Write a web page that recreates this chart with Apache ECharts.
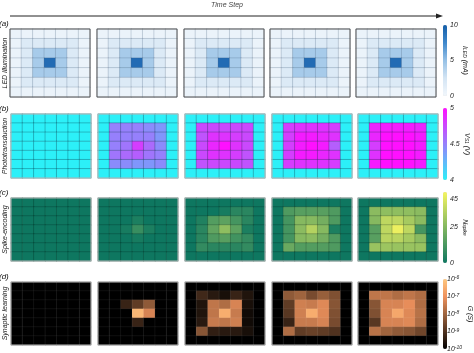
<!DOCTYPE html>
<html>
<head>
<meta charset="utf-8">
<script src="https://cdn.jsdelivr.net/npm/echarts@6/dist/echarts.min.js"></script>
<style>
  html, body { margin: 0; padding: 0; background: #fff; }
  #main { width: 474px; height: 353px; }
</style>
</head>
<body>
<div id="main"></div>
<script>
// 7x7 pixel arrays, row 0 = top of the panel

// (a) LED current, mA - same pattern at every time step
const ledFrame = [
  [0.6, 0.6, 0.6, 0.6, 0.6, 0.6, 0.6],
  [0.6, 1.8, 1.8, 1.8, 1.8, 1.8, 0.6],
  [0.6, 1.8, 4.3, 4.3, 4.3, 1.8, 0.6],
  [0.6, 1.8, 4.3, 9.2, 4.3, 1.8, 0.6],
  [0.6, 1.8, 4.3, 4.3, 4.3, 1.8, 0.6],
  [0.6, 1.8, 1.8, 1.8, 1.8, 1.8, 0.6],
  [0.6, 0.6, 0.6, 0.6, 0.6, 0.6, 0.6]
];

// (b) phototransduction voltage, V
const photoT1 = [
  [4, 4, 4, 4, 4, 4, 4],
  [4, 4, 4, 4, 4, 4, 4],
  [4, 4, 4, 4, 4, 4, 4],
  [4, 4, 4, 4, 4, 4, 4],
  [4, 4, 4, 4, 4, 4, 4],
  [4, 4, 4, 4, 4, 4, 4],
  [4, 4, 4, 4, 4, 4, 4]
];
const photoT2 = [
  [4, 4, 4, 4, 4, 4, 4],
  [4, 4.5, 4.5, 4.5, 4.45, 4.4, 4],
  [4, 4.5, 4.5, 4.5, 4.5, 4.4, 4],
  [4, 4.5, 4.55, 4.8, 4.6, 4.45, 4],
  [4, 4.55, 4.6, 4.65, 4.55, 4.5, 4],
  [4, 4.45, 4.45, 4.4, 4.4, 4.45, 4],
  [4, 4, 4, 4, 4, 4, 4]
];
const photoT3 = [
  [4, 4, 4, 4, 4, 4, 4],
  [4, 4.75, 4.75, 4.75, 4.75, 4.75, 4],
  [4, 4.7, 4.85, 4.85, 4.8, 4.75, 4],
  [4, 4.75, 4.9, 5.0, 4.85, 4.75, 4],
  [4, 4.75, 4.85, 4.85, 4.8, 4.7, 4],
  [4, 4.7, 4.75, 4.75, 4.75, 4.7, 4],
  [4, 4, 4, 4, 4, 4, 4]
];
const photoT4 = [
  [4, 4, 4, 4, 4, 4, 4],
  [4, 4.8, 4.85, 4.85, 4.85, 4.8, 4],
  [4, 4.8, 4.95, 4.95, 4.9, 4.85, 4],
  [4, 4.8, 4.95, 5.0, 4.95, 4.65, 4],
  [4, 4.8, 4.95, 4.95, 4.9, 4.85, 4],
  [4, 4.8, 4.85, 4.85, 4.85, 4.8, 4],
  [4, 4, 4, 4, 4, 4, 4]
];
const photoT5 = [
  [4, 4, 4, 4, 4, 4, 4],
  [4, 4.9, 4.95, 4.95, 4.95, 4.9, 4],
  [4, 4.9, 5.0, 5.0, 5.0, 4.95, 4],
  [4, 4.8, 5.0, 5.0, 5.0, 4.95, 4],
  [4, 4.85, 5.0, 5.0, 5.0, 4.95, 4],
  [4, 4.95, 5.0, 5.0, 5.0, 4.95, 4],
  [4, 4, 4, 4, 4, 4, 4]
];

// (c) spike counts
const spikeT1 = [
  [0, 0, 0, 0, 0, 0, 0],
  [0, 0, 0, 0, 0, 0, 0],
  [0, 0, 0, 0, 0, 0, 0],
  [0, 0, 0, 0, 0, 0, 0],
  [0, 0, 0, 0, 0, 0, 0],
  [0, 0, 0, 0, 0, 0, 0],
  [0, 0, 0, 0, 0, 0, 0]
];
const spikeT2 = [
  [0, 0, 0, 0, 0, 0, 0],
  [0, 0, 0, 0, 0, 0, 0],
  [0, 0, 0, 3, 0, 0, 0],
  [0, 0, 2, 9, 3, 0, 0],
  [0, 0, 0, 2, 0, 0, 0],
  [0, 0, 0, 0, 0, 0, 0],
  [0, 0, 0, 0, 0, 0, 0]
];
const spikeT3 = [
  [0, 0, 0, 0, 0, 0, 0],
  [0, 0, 0, 2, 6, 6, 0],
  [0, 4, 15, 17, 12, 6, 0],
  [0, 6, 18, 28, 17, 3, 0],
  [0, 6, 14, 16, 11, 8, 0],
  [0, 8, 6, 6, 6, 8, 0],
  [0, 0, 0, 0, 0, 0, 0]
];
const spikeT4 = [
  [0, 0, 0, 0, 0, 0, 0],
  [0, 14, 16, 16, 16, 14, 0],
  [0, 12, 26, 26, 22, 14, 0],
  [0, 12, 27, 36, 26, 3, 0],
  [0, 12, 26, 27, 22, 14, 0],
  [0, 20, 15, 15, 15, 14, 0],
  [0, 0, 0, 0, 0, 0, 0]
];
const spikeT5 = [
  [0, 0, 0, 0, 0, 0, 0],
  [0, 27, 28, 28, 28, 27, 0],
  [0, 26, 38, 38, 33, 27, 0],
  [0, 16, 38, 48, 38, 12, 0],
  [0, 16, 37, 37, 33, 27, 0],
  [0, 30, 31, 30, 30, 30, 0],
  [0, 0, 0, 0, 0, 0, 0]
];

// (d) synaptic conductance, log10(G / S)
const synT1 = [
  [-10, -10, -10, -10, -10, -10, -10],
  [-10, -10, -10, -10, -10, -10, -10],
  [-10, -10, -10, -10, -10, -10, -10],
  [-10, -10, -10, -10, -10, -10, -10],
  [-10, -10, -10, -10, -10, -10, -10],
  [-10, -10, -10, -10, -10, -10, -10],
  [-10, -10, -10, -10, -10, -10, -10]
];
const synT2 = [
  [-10, -10, -10, -10, -10, -10, -10],
  [-10, -10, -10, -10, -10, -10, -10],
  [-10, -10, -9.3, -8.8, -8.2, -10, -10],
  [-10, -10, -10, -6.3, -7.3, -10, -10],
  [-10, -10, -10, -9.3, -10, -10, -10],
  [-10, -10, -10, -10, -10, -10, -10],
  [-10, -10, -10, -10, -10, -10, -10]
];
const synT3 = [
  [-10, -10, -10, -10, -10, -10, -10],
  [-10, -9.2, -9.5, -9.7, -9.3, -9.6, -10],
  [-10, -9.6, -7.6, -7.8, -7.3, -9.7, -10],
  [-10, -9.6, -7.6, -6.5, -7.5, -9.8, -10],
  [-10, -9.5, -7.5, -7.6, -7.4, -9.8, -10],
  [-10, -8.3, -9.4, -9.5, -9.5, -9.7, -10],
  [-10, -10, -10, -10, -10, -10, -10]
];
const synT4 = [
  [-10, -10, -10, -10, -10, -10, -10],
  [-10, -8.2, -8.0, -8.5, -8.1, -8.4, -10],
  [-10, -8.8, -7.4, -7.5, -7.2, -8.3, -10],
  [-10, -8.9, -7.4, -6.5, -7.2, -8.4, -10],
  [-10, -9.3, -7.5, -7.5, -7.3, -8.5, -10],
  [-10, -7.8, -8.8, -8.7, -8.8, -9.0, -10],
  [-10, -10, -10, -10, -10, -10, -10]
];
const synT5 = [
  [-10, -10, -10, -10, -10, -10, -10],
  [-10, -7.6, -7.6, -7.8, -7.6, -7.8, -10],
  [-10, -8.3, -7.3, -7.3, -7.1, -7.8, -10],
  [-10, -8.4, -7.3, -6.6, -7.2, -7.7, -10],
  [-10, -8.9, -7.3, -7.3, -7.2, -7.8, -10],
  [-10, -7.7, -8.0, -8.2, -8.3, -8.6, -10],
  [-10, -10, -10, -10, -10, -10, -10]
];

const rowTitles = ['LED Illumination', 'Phototransduction', 'Spike-encoding', 'Synaptic learning'];
const rowLetters = ['(a)', '(b)', '(c)', '(d)'];
const cbRanges = [[0, 10, 5], [4, 5, 0.5], [0, 50, 5], [-10, -6, 1]];
const cbNames = ['I{sub|LED} (mA)', 'V{sub|S1} (V)', 'N{sub|spike}', 'G (S)'];

const rows = [
  { frames: [ledFrame, ledFrame, ledFrame, ledFrame, ledFrame],
    lefts: [10, 97, 184, 270, 356], top: 29, height: 68,
    border: '#555', line: 'rgba(60,80,110,0.35)',
    colors: ['#f2f7fc', '#d4e5f4', '#96c1e6', '#3f88cc', '#145ea8'] },
  { frames: [photoT1, photoT2, photoT3, photoT4, photoT5],
    lefts: [11, 98, 185, 272, 358], top: 114, height: 64,
    border: '#bbb', line: 'rgba(0,40,60,0.45)',
    colors: ['#2cf0f8', '#ff10ff'] },
  { frames: [spikeT1, spikeT2, spikeT3, spikeT4, spikeT5],
    lefts: [11, 98, 185, 272, 358], top: 198, height: 63,
    border: '#bbb', line: 'rgba(0,30,20,0.35)',
    colors: ['#0e7760', '#f5f560'] },
  { frames: [synT1, synT2, synT3, synT4, synT5],
    lefts: [11, 98, 185, 272, 358], top: 282, height: 63,
    border: '#bbb', line: 'rgba(255,255,255,0.1)',
    colors: ['#000000', '#50321f', '#9f643e', '#ef925d', '#ffc77f'] }
];
const cbBoxes = [[25, 71], [108, 72], [192, 71], [279, 70]];

const idx = [0, 1, 2, 3, 4, 5, 6];
const font = 'Liberation Sans';

const grid = [], xAxis = [], yAxis = [], series = [], visualMap = [];
const graphic = [];

rows.forEach((row, r) => {
  const sIdx = [];
  row.frames.forEach((frame, p) => {
    const gi = grid.length;
    grid.push({ left: row.lefts[p], top: row.top, width: 80, height: row.height });
    xAxis.push({ gridIndex: gi, type: 'category', data: idx, show: false });
    yAxis.push({ gridIndex: gi, type: 'category', data: idx, inverse: true, show: false });
    const data = [];
    frame.forEach((line, y) => line.forEach((v, x) => data.push([x, y, v])));
    sIdx.push(series.length);
    series.push({
      type: 'heatmap', xAxisIndex: gi, yAxisIndex: gi, data: data,
      itemStyle: { borderColor: row.line, borderWidth: 0.6 },
      emphasis: { disabled: true }
    });
    graphic.push({
      type: 'rect', z: 100, silent: true,
      shape: { x: row.lefts[p], y: row.top, width: 80, height: row.height },
      style: { fill: null, stroke: row.border, lineWidth: 1 }
    });
  });

  const rg = cbRanges[r];
  const box = cbBoxes[r];
  visualMap.push({
    type: 'continuous', min: rg[0], max: rg[1], seriesIndex: sIdx,
    inRange: { color: row.colors }, calculable: false, padding: 0,
    left: 443, top: box[0], itemWidth: 4, itemHeight: box[1]
  });

  const gi = grid.length;
  grid.push({ left: 443, top: box[0], width: 4, height: box[1] });
  xAxis.push({ gridIndex: gi, type: 'value', show: false });
  yAxis.push({
    gridIndex: gi, type: 'value', min: rg[0], max: rg[1], interval: rg[2], position: 'right',
    axisLine: { show: false }, axisTick: { show: false }, splitLine: { show: false },
    axisLabel: {
      margin: 3, fontSize: 7, fontStyle: 'italic', fontFamily: font, color: '#222',
      formatter: r === 2 ? (v => (v === 0 || v === 25 || v === 45) ? String(v) : '')
               : r === 3 ? (v => '10{s|' + v + '}') : null,
      rich: { s: { fontSize: 5, verticalAlign: 'top', fontStyle: 'italic', fontFamily: font, color: '#222' } }
    },
    name: cbNames[r], nameLocation: 'middle', nameRotate: -90, nameGap: 13,
    nameTextStyle: {
      fontSize: 7, fontStyle: 'italic', fontFamily: font, color: '#222',
      rich: { sub: { fontSize: 5, verticalAlign: 'bottom', fontStyle: 'italic', fontFamily: font, color: '#222' } }
    }
  });

  graphic.push({
    type: 'text', x: 5, y: row.top + row.height / 2, rotation: Math.PI / 2,
    style: { text: rowTitles[r], fontSize: 7, fontStyle: 'italic', fontFamily: font,
      fill: '#222', align: 'center', verticalAlign: 'middle' }
  });
  graphic.push({
    type: 'text', x: -1, y: row.top - 5,
    style: { text: rowLetters[r], fontSize: 8, fontStyle: 'italic', fontFamily: font,
      fill: '#111', align: 'left', verticalAlign: 'middle' }
  });
});

graphic.push({
  type: 'text', x: 227, y: 5,
  style: { text: 'Time Step', fontSize: 7, fontStyle: 'italic', fontFamily: font,
    fill: '#444', align: 'center', verticalAlign: 'middle' }
});
graphic.push({
  type: 'line', shape: { x1: 10, y1: 16, x2: 438, y2: 16 },
  style: { stroke: '#222', lineWidth: 1 }
});
graphic.push({
  type: 'polygon', shape: { points: [[436, 13.5], [443, 16], [436, 18.5]] },
  style: { fill: '#222' }
});

const chart = echarts.init(document.getElementById('main'));
chart.setOption({
  animation: false,
  grid: grid,
  xAxis: xAxis,
  yAxis: yAxis,
  visualMap: visualMap,
  series: series,
  graphic: graphic
});
</script>
</body>
</html>
